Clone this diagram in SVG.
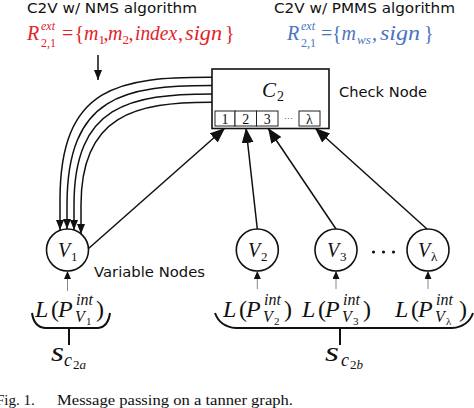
<svg xmlns="http://www.w3.org/2000/svg" width="474" height="408" viewBox="0 0 474 408">
<style>
.sans{font-family:"DejaVu Sans","Liberation Sans",sans-serif;fill:#111}
.m{font-family:"Liberation Serif","DejaVu Serif",serif;fill:#111}
.i{font-style:italic}
.red{fill:#e3222b}
.blue{fill:#4a74c2}
.edge{fill:none;stroke:#111;stroke-width:1.5}
.node{fill:#fff;stroke:#111;stroke-width:1.6}
.cell{fill:#fff;stroke:#222;stroke-width:1}
.inp{stroke:#888;stroke-width:1}
.brace{fill:none;stroke:#111;stroke-width:2}
</style>
<defs>
<marker id="ab" markerUnits="userSpaceOnUse" markerWidth="16" markerHeight="12" refX="15" refY="6" orient="auto"><path d="M0,0 L15,6 L0,12 z" fill="#111"/></marker>
<marker id="am" markerUnits="userSpaceOnUse" markerWidth="11" markerHeight="9" refX="10" refY="4" orient="auto"><path d="M0,0 L10,4 L0,8 z" fill="#111"/></marker>
<marker id="as" markerUnits="userSpaceOnUse" markerWidth="9" markerHeight="8" refX="8" refY="3.5" orient="auto"><path d="M0,0 L8,3.5 L0,7 z" fill="#111"/></marker>
</defs>

<!-- headings -->
<g id="nms-heading">
<text class="sans" x="27" y="13" font-size="14" textLength="170" lengthAdjust="spacingAndGlyphs">C2V w/ NMS algorithm</text>
<text class="m i red" x="27" y="40" font-size="20">R</text>
<text class="m i red" x="41" y="30" font-size="12">ext</text>
<text class="m red" x="41" y="47" font-size="12">2,1</text>
<text class="m red" x="62" y="40" font-size="20">=</text>
<text class="m red" x="74.5" y="40" font-size="20">{</text>
<text class="m i red" x="84" y="40" font-size="20">m</text>
<text class="m red" x="98.5" y="44" font-size="13">1</text>
<text class="m red" x="103.5" y="40" font-size="20">,</text>
<text class="m i red" x="108" y="40" font-size="20">m</text>
<text class="m red" x="122.5" y="44" font-size="13">2</text>
<text class="m red" x="128.5" y="40" font-size="20">,</text>
<text class="m i red" x="135" y="40" font-size="20" textLength="42" lengthAdjust="spacingAndGlyphs">index</text>
<text class="m red" x="178" y="40" font-size="20">,</text>
<text class="m i red" x="185" y="40" font-size="20" textLength="37" lengthAdjust="spacingAndGlyphs">sign</text>
<text class="m red" x="225" y="40" font-size="20">}</text>
</g>
<g id="pmms-heading">
<text class="sans" x="274" y="13" font-size="14" textLength="181" lengthAdjust="spacingAndGlyphs">C2V w/ PMMS algorithm</text>
<text class="m i blue" x="287" y="40" font-size="20">R</text>
<text class="m i blue" x="301" y="30" font-size="12">ext</text>
<text class="m blue" x="301" y="47" font-size="12">2,1</text>
<text class="m blue" x="321" y="40" font-size="20">=</text>
<text class="m blue" x="332" y="40" font-size="20">{</text>
<text class="m i blue" x="341.5" y="40" font-size="20">m</text>
<text class="m i blue" x="357" y="44" font-size="13">ws</text>
<text class="m blue" x="372" y="40" font-size="20">,</text>
<text class="m i blue" x="380" y="40" font-size="20" textLength="40" lengthAdjust="spacingAndGlyphs">sign</text>
<text class="m blue" x="424" y="40" font-size="20">}</text>
</g>

<!-- connectors -->
<g id="connectors">
<path class="edge" d="M98,55 L98,80" marker-end="url(#am)"/>
<path class="edge" d="M212,77.3 C120,77 60,85 60,200 L60,230" marker-end="url(#am)"/>
<path class="edge" d="M212,85.6 C125,85.5 67,95 67,205 L67,229" marker-end="url(#am)"/>
<path class="edge" d="M212,93.9 C130,94 74,105 74,205 L74,230" marker-end="url(#am)"/>
<path class="edge" d="M212,102.2 C135,102 81,115 81,205 L81,234" marker-end="url(#am)"/>
<path class="edge" d="M88,249 L225,128" marker-end="url(#ab)"/>
<path class="edge" d="M257.3,229 L246,128" marker-end="url(#ab)"/>
<path class="edge" d="M336,229 L268,128" marker-end="url(#ab)"/>
<path class="edge" d="M427,229 L315,128" marker-end="url(#ab)"/>
<path class="inp" d="M67.5,291 L67.5,271" marker-end="url(#as)"/>
<path class="inp" d="M257.3,289 L257.3,271" marker-end="url(#as)"/>
<path class="inp" d="M336,289 L336,271" marker-end="url(#as)"/>
<path class="inp" d="M428,289 L428,271" marker-end="url(#as)"/>
</g>

<!-- check node -->
<g id="check-node">
<rect class="node" x="212" y="69" width="117" height="59.5"/>
<text class="m i" x="262" y="97" font-size="21">C</text>
<text class="m" x="277" y="101" font-size="14">2</text>
<rect class="cell" x="215" y="111" width="20" height="15"/>
<rect class="cell" x="235" y="111" width="21.5" height="15"/>
<rect class="cell" x="256.5" y="111" width="21.5" height="15"/>
<rect class="cell" x="299" y="111" width="21" height="15"/>
<text class="m" x="225" y="124" font-size="14" text-anchor="middle">1</text>
<text class="m" x="245.7" y="124" font-size="14" text-anchor="middle">2</text>
<text class="m" x="267.2" y="124" font-size="14" text-anchor="middle">3</text>
<text class="m" x="288.5" y="121" font-size="9" text-anchor="middle">···</text>
<text class="m" x="309.5" y="124" font-size="14" text-anchor="middle">λ</text>
<text class="sans" x="339" y="97" font-size="14.5" textLength="88" lengthAdjust="spacingAndGlyphs">Check Node</text>
</g>

<!-- variable nodes -->
<g id="v1">
<circle class="node" cx="67.5" cy="250" r="21"/>
<text class="m i" x="58" y="257" font-size="20">V</text>
<text class="m" x="71" y="261" font-size="13">1</text>
</g>
<text class="sans" x="94" y="277" font-size="14.5" textLength="111" lengthAdjust="spacingAndGlyphs">Variable Nodes</text>
<g id="v2">
<circle class="node" cx="257.3" cy="250" r="21"/>
<text class="m i" x="248" y="257" font-size="20">V</text>
<text class="m" x="261" y="261" font-size="13">2</text>
</g>
<g id="v3">
<circle class="node" cx="336" cy="250" r="21"/>
<text class="m i" x="327" y="257" font-size="20">V</text>
<text class="m" x="340" y="261" font-size="13">3</text>
</g>
<g id="dots">
<circle cx="373.5" cy="252" r="1.6" fill="#111"/>
<circle cx="383.5" cy="252" r="1.6" fill="#111"/>
<circle cx="393.5" cy="252" r="1.6" fill="#111"/>
</g>
<g id="vl">
<circle class="node" cx="428" cy="250" r="21"/>
<text class="m i" x="418" y="257" font-size="20">V</text>
<text class="m" x="431" y="261" font-size="13">λ</text>
</g>

<!-- input labels -->
<g id="lp1">
<text class="m i" x="35" y="317" font-size="24">L</text>
<text class="m" x="51" y="317" font-size="24">(</text>
<text class="m i" x="58" y="317" font-size="24">P</text>
<text class="m i" x="76" y="305" font-size="16">int</text>
<text class="m i" x="75" y="322" font-size="16">V</text>
<text class="m" x="86" y="325" font-size="11">1</text>
<text class="m" x="96" y="317" font-size="24">)</text>
</g>
<g id="lp2">
<text class="m i" x="223" y="317" font-size="24">L</text>
<text class="m" x="239" y="317" font-size="24">(</text>
<text class="m i" x="246" y="317" font-size="24">P</text>
<text class="m i" x="264" y="305" font-size="16">int</text>
<text class="m i" x="263" y="322" font-size="16">V</text>
<text class="m" x="274" y="325" font-size="11">2</text>
<text class="m" x="284" y="317" font-size="24">)</text>
</g>
<g id="lp3">
<text class="m i" x="302" y="317" font-size="24">L</text>
<text class="m" x="318" y="317" font-size="24">(</text>
<text class="m i" x="325" y="317" font-size="24">P</text>
<text class="m i" x="343" y="305" font-size="16">int</text>
<text class="m i" x="342" y="322" font-size="16">V</text>
<text class="m" x="353" y="325" font-size="11">3</text>
<text class="m" x="363" y="317" font-size="24">)</text>
</g>
<g id="lpl">
<text class="m i" x="395" y="317" font-size="24">L</text>
<text class="m" x="411" y="317" font-size="24">(</text>
<text class="m i" x="418" y="317" font-size="24">P</text>
<text class="m i" x="436" y="305" font-size="16">int</text>
<text class="m i" x="435" y="322" font-size="16">V</text>
<text class="m" x="446" y="325" font-size="11">λ</text>
<text class="m" x="459" y="317" font-size="24">)</text>
</g>

<!-- braces -->
<g id="brace-a">
<path class="brace" d="M32,313 Q34,327 45,328 L98,328 Q108,327 110,313"/>
<path class="brace" d="M69,328 L69,345"/>
<text class="m i" x="51" y="361" font-size="28" textLength="13" lengthAdjust="spacingAndGlyphs">s</text>
<text class="m i" x="64" y="366" font-size="18">c</text>
<text class="m" x="73" y="369" font-size="13">2<tspan font-style="italic">a</tspan></text>
</g>
<g id="brace-b">
<path class="brace" d="M215,313 Q220,327 236,328 L452,328 Q468,327 473,313"/>
<path class="brace" d="M340,328 L340,345"/>
<text class="m i" x="325" y="361" font-size="28" textLength="14" lengthAdjust="spacingAndGlyphs">s</text>
<text class="m i" x="341" y="366" font-size="18">c</text>
<text class="m" x="350" y="369" font-size="13">2<tspan font-style="italic">b</tspan></text>
</g>

<!-- caption -->
<text class="m" x="-4" y="405" font-size="15">Fig. 1.</text>
<text class="m" x="57" y="405" font-size="15" textLength="236" lengthAdjust="spacingAndGlyphs">Message passing on a tanner graph.</text>
</svg>
